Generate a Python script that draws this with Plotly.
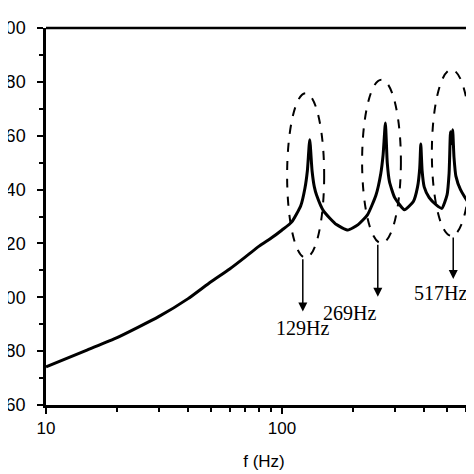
import plotly.graph_objects as go

freq = [10, 15, 20, 30, 40, 50, 60, 70, 80, 90, 100, 110, 120, 125, 128, 131, 134, 137, 140, 150, 170, 190,
        210, 230, 250, 262, 268, 274, 279, 285, 300, 330, 360, 375, 383, 387, 392, 400, 420, 450, 475, 500,
        510, 517, 522, 528, 535, 545, 570, 620, 680, 720]
level = [74.2, 80.5, 85, 92.8, 99.5, 105.8, 110.5, 115, 119, 122, 125, 128, 134, 140.5, 147, 158.5, 147,
         141, 138, 132, 127, 125, 127, 130.6, 138, 146, 153, 164.7, 150, 143, 137, 132.5, 135.6, 141, 148,
         156.9, 147, 141, 137, 134.3, 133, 138, 146, 161.5, 157, 162.2, 152, 145, 140, 135, 134.3, 135.5]
peak_labels = ["129Hz", "269Hz", "517Hz"]

fig = go.Figure(go.Scatter(x=freq, y=level, mode="lines",
                           line=dict(color="black", width=3, shape="spline", smoothing=0.5),
                           hoverinfo="skip"))

ellipses = [(0.553, 0.638, 114.7, 175.8), (0.725, 0.814, 120.1, 180.8), (0.885, 0.975, 122.8, 184.5)]
arrows = [(0.589, 114.7, 94.7, 88.5, 0.589), (0.761, 120.1, 100.2, 94.0, 0.761), (0.934, 122.8, 106.8, 101.5, 0.97)]
for (x0, x1, y0, y1) in ellipses:
    fig.add_shape(type="circle", xref="x domain", yref="y", x0=x0, x1=x1, y0=y0, y1=y1,
                  line=dict(color="black", width=2, dash="dash"))
for (ax, ya, yb, yl, xl), lab in zip(arrows, peak_labels):
    fig.add_annotation(xref="x domain", yref="y", x=ax, y=yb, axref="x domain", ayref="y", ax=ax, ay=ya,
                       showarrow=True, arrowhead=2, arrowsize=1.2, arrowwidth=1.5, arrowcolor="black", text="")
    fig.add_annotation(xref="x domain", yref="y", x=xl, y=yl, text=lab, showarrow=False,
                       font=dict(family="Liberation Serif", size=20, color="black"))
fig.add_shape(type="line", xref="paper", yref="paper", x0=0, x1=1, y0=1, y1=1,
              line=dict(color="black", width=2.5))

fig.update_layout(
    width=474, height=474, margin=dict(l=38, r=0, t=20, b=77),
    plot_bgcolor="white", paper_bgcolor="white", showlegend=False,
    xaxis=dict(type="log", range=[1, 2.847], tickvals=[10, 100], ticktext=["10", "100"], automargin=False,
               showline=True, linecolor="black", linewidth=2.5, ticks="outside", ticklen=6,
               tickcolor="black", tickwidth=2, showgrid=False,
               minor=dict(tickvals=[20, 30, 40, 50, 60, 70, 80, 90, 200, 300, 400, 500, 600, 700],
                          ticks="outside", ticklen=4, tickcolor="black", tickwidth=1.5),
               tickfont=dict(family="Liberation Sans", size=17, color="black"),
               title=dict(text="f (Hz)", font=dict(family="Liberation Sans", size=17, color="black"),
                          standoff=18)),
    yaxis=dict(range=[60, 200], dtick=20, showline=True, linecolor="black", linewidth=2.5, automargin=False,
               ticks="outside", ticklen=6, tickcolor="black", tickwidth=2, showgrid=False,
               zeroline=False, ticklabelstandoff=8,
               minor=dict(dtick=10, ticks="outside", ticklen=4, tickcolor="black", tickwidth=1.5),
               tickfont=dict(family="Liberation Sans", size=18, color="black")),
)
fig.write_html("out.html")
